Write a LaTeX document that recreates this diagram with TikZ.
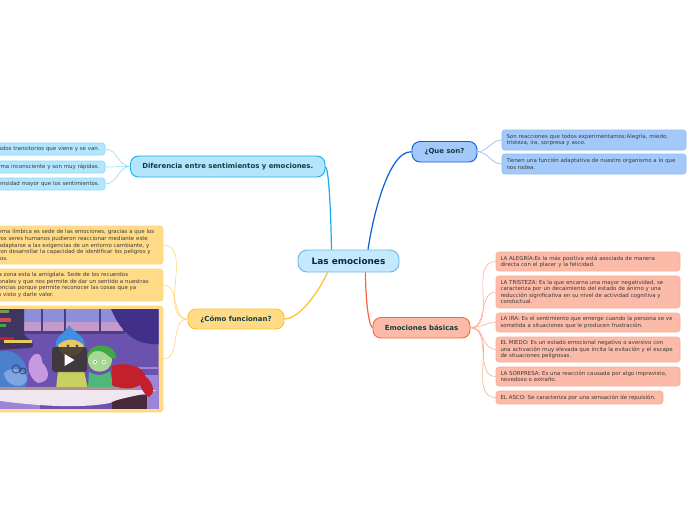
\documentclass[tikz,border=0pt]{standalone}
\usepackage{fontspec}
\setmainfont{DejaVu Sans}
\frenchspacing
\definecolor{txt}{HTML}{3A3A3A}
\definecolor{ttl}{HTML}{0F3D3E}
\definecolor{rootT}{HTML}{0C2340}
\definecolor{cenF}{HTML}{C4E9FD}\definecolor{cenB}{HTML}{6FB6E4}
\definecolor{cyF}{HTML}{B3E5FC}\definecolor{cyB}{HTML}{19ACEC}\definecolor{cyL}{HTML}{8FDCFA}
\definecolor{blF}{HTML}{A3C9FB}\definecolor{blB}{HTML}{0B5FD6}\definecolor{blL}{HTML}{8DBAF5}
\definecolor{yeF}{HTML}{FFDB88}\definecolor{yeB}{HTML}{FFBF26}\definecolor{yeL}{HTML}{FFD67A}
\definecolor{reF}{HTML}{FBBBA8}\definecolor{reB}{HTML}{F9653A}\definecolor{reL}{HTML}{FBAE96}
% scene colours
\definecolor{scMid}{HTML}{6A52AE}\definecolor{scLow}{HTML}{9C84D8}\definecolor{scTop}{HTML}{8E8FDA}
\definecolor{scPink}{HTML}{C49ACB}\definecolor{scCol}{HTML}{4A3F80}\definecolor{scBlob}{HTML}{40308A}
\definecolor{scCon}{HTML}{3E3560}\definecolor{scSad}{HTML}{4A80CC}\definecolor{scSadF}{HTML}{7FA6E0}
\definecolor{scBing}{HTML}{C79AE0}\definecolor{scJoy}{HTML}{3E90E4}\definecolor{scJoyB}{HTML}{C8D060}
\definecolor{scSkin}{HTML}{E8C860}\definecolor{scDis}{HTML}{3FA64A}\definecolor{scDisF}{HTML}{A6D890}
\definecolor{scDisB}{HTML}{4FB878}\definecolor{scAng}{HTML}{C4202C}\definecolor{scTab}{HTML}{EFE6F0}
\definecolor{scBand}{HTML}{B09090}\definecolor{scDark}{HTML}{4A2A3A}\definecolor{scPlay}{HTML}{3A3530}
\newcommand\mmbox[7]{%
  \pgfmathsetmacro\bw{#5-#3}\pgfmathsetmacro\bh{#6-#4}%
  \pgfmathsetmacro\bx{(#3+#5)/2}\pgfmathsetmacro\by{(#4+#6)/2}%
  \node[#1,minimum height=\bh pt,minimum width=\bw pt] (#2) at (\bx,\by) {#7};}
\newcommand\mmleaf[8]{%
  \pgfmathsetmacro\bh{#7-#5}\pgfmathsetmacro\tw{#6-#4-9}%
  \pgfmathsetmacro\bx{(#4+#6)/2}\pgfmathsetmacro\by{(#5+#7)/2}%
  \node[#1,fill=#3F,draw=#3L,minimum height=\bh pt,text width=\tw pt] (#2) at (\bx,\by) {#8};}
\tikzset{
  leafbox/.style={rounded corners=3pt,line width=.7pt,inner xsep=4.5pt,inner ysep=0pt,align=left,
    text=txt,font=\fontsize{5.45}{6.6}\selectfont},
  mainbox/.style={rounded corners=8pt,line width=.9pt,inner sep=0pt,align=center,text=ttl,
    font=\fontsize{6.95}{8}\selectfont\bfseries},
  rootbox/.style={rounded corners=9pt,line width=.9pt,inner sep=0pt,align=center,fill=cenF,draw=cenB,
    text=rootT,font=\fontsize{8.9}{10}\selectfont\bfseries},
  trunk/.style={line width=1.2pt},
  twig/.style={line width=.6pt}
}
\begin{document}
\begin{tikzpicture}[x=1pt,y=-1pt]
\useasboundingbox (0,0) rectangle (696,520);
\clip (0,0) rectangle (696,520);
\fill[white] (0,0) rectangle (696,520);

% nodes
\mmbox{rootbox}{root}{298}{250}{399}{272}{Las emociones}
\mmbox{mainbox,fill=cyF,draw=cyB}{dif}{130.5}{156}{325}{177}{Diferencia entre sentimientos y emociones.}
\mmbox{mainbox,fill=blF,draw=blB}{que}{412}{141.5}{477}{162}{¿Que son?}
\mmbox{mainbox,fill=yeF,draw=yeB}{como}{188}{309}{284}{329}{¿Cómo funcionan?}
\mmbox{mainbox,fill=reF,draw=reB}{bas}{373}{317.5}{470}{338}{Emociones básicas}

\mmleaf{leafbox}{d1}{cy}{-6}{143}{105}{155}{ados transitorios que viene y se van.}
\mmleaf{leafbox}{d2}{cy}{-6}{161}{105}{173}{rma inconsciente y son muy rápidas.}
\mmleaf{leafbox}{d3}{cy}{-6}{178}{105}{190}{ensidad mayor que los sentimientos.}

\mmleaf{leafbox}{c1}{ye}{-6}{226}{163}{264}{ema límbica es sede de las emociones, gracias a que los\\ros seres humanos pudieron reaccionar mediante este\\adaptarse a las exigencias de un entorno cambiante, y\\ron desarrollar la capacidad de identificar los peligros y\\ios.}
\mmleaf{leafbox}{c2}{ye}{-6}{269}{163}{301}{a zona esta la amígdala. Sede de los recuerdos\\onales y que nos permite de dar un sentido a nuestras\\encias porque permite reconocer las cosas que ya\\s visto y darle valor.}

\mmleaf{leafbox}{q1}{bl}{502}{130}{686}{150}{Son reacciones que todos experimentamos:Alegría, miedo,\\tristeza, ira, sorpresa y asco.}
\mmleaf{leafbox}{q2}{bl}{502}{154}{686}{174}{Tienen una función adaptativa de nuestro organismo a lo que\\nos rodea.}

\mmleaf{leafbox}{b1}{re}{496}{252}{680}{271}{LA ALEGRÍA:Es la más positiva está asociada de manera\\directa con el placer y la felicidad.}
\mmleaf{leafbox}{b2}{re}{496}{276}{680}{308}{LA TRISTEZA: Es la que encarna una mayor negatividad, se\\caracteriza por un decaimiento del estado de ánimo y una\\reducción significativa en su nivel de actividad cognitiva y\\conductual.}
\mmleaf{leafbox}{b3}{re}{496}{313}{680}{332}{LA IRA: Es el sentimiento que emerge cuando la persona se ve\\sometida a situaciones que le producen frustración.}
\mmleaf{leafbox}{b4}{re}{496}{337}{680}{362}{EL MIEDO: Es un estado emocional negativo o aversivo con\\una activación muy elevada que incita la evitación y el escape\\de situaciones peligrosas.}
\mmleaf{leafbox}{b5}{re}{496}{367}{680}{386}{LA SORPRESA: Es una reacción causada por algo imprevisto,\\novedoso o extraño.}
\mmleaf{leafbox}{b6}{re}{496}{391}{663}{404}{EL ASCO: Se caracteriza por una sensación de repulsión.}

% video card
\node[rounded corners=3.5pt,fill=yeF,draw=yeL,line width=.7pt,minimum width=169pt,minimum height=106pt,inner sep=0pt] (c3) at (78.5,359) {};
\begin{scope}
\clip (-6,309) rectangle (158.5,409);
\fill[scMid] (-6,309) rectangle (159,409);
\fill[scLow] (120,375) rectangle (159,409);
\fill[scLow] (-6,395) rectangle (40,409);
\fill[scTop] (20,309) rectangle (125,322);
\fill[scPink] (24,322) rectangle (125,331);
\foreach \wx in {42,65,100,124}{\fill[scCol] (\wx-1.3,309) rectangle (\wx+1.3,333);}
\fill[scCol] (20,331) rectangle (125,333.5);
\fill[scBlob] (111,309) .. controls (118,325) and (130,346) .. (159,344) -- (159,309) -- cycle;
\fill[scCon] (-6,309) -- (24,309) -- (24,334) .. controls (30,342) and (38,344) .. (30,348) -- (-6,350) -- cycle;
\fill[scDisF!70!black] (0,310) rectangle (9,313);
\fill[scAng!80!white] (0,318) rectangle (11,322);
\fill[scDis] (0,324) rectangle (6,327);
\fill[scSkin] (4,340) rectangle (32,343);
\fill[scAng] (0,337) rectangle (14,340);
\fill[scLow] (125,367) rectangle (159,369);
% Sadness
\fill[scSad] (-6,354) .. controls (8,345) and (26,355) .. (28,375) .. controls (29,388) and (20,394) .. (-6,396) -- cycle;
\fill[scSadF] (4,373) .. controls (5,388) and (27,390) .. (27,378) .. controls (24,368) and (10,366) .. (4,373) -- cycle;
\draw[scCon,line width=.7pt] (16,369) circle (4.2) (23,371) circle (3);
% Bing Bong
\fill[scBing] (29,362) .. controls (33,351) and (42,351) .. (42,362) .. controls (51,372) and (50,382) .. (38,383) .. controls (32,380) and (27,372) .. (29,362) -- cycle;
% Joy
\fill[scJoyB] (58,371) -- (84,371) -- (88,389) -- (56,389) -- cycle;
\fill[scSkin] (58,345) .. controls (60,360) and (82,360) .. (84,345) .. controls (85,335) and (58,335) .. (58,345) -- cycle;
\fill[scJoy] (56,347) .. controls (54,335) and (66,334) .. (69,325) .. controls (72,332) and (85,334) .. (85,347) .. controls (78,337) and (64,337) .. (56,347) -- cycle;
\fill[scCol] (68,346) circle (1.6) (77,346) circle (1.6);
% Disgust
\fill[scDisB] (89,372) .. controls (95,376) and (103,376) .. (110,371) -- (114,388) -- (88,388) -- cycle;
\fill[scDisF] (88,359) .. controls (87,376) and (112,376) .. (112,359) .. controls (112,346) and (88,346) .. (88,359) -- cycle;
\fill[scDis] (87,358) .. controls (87,341) and (116,341) .. (116,358) .. controls (110,362) and (108,350) .. (96,351) .. controls (92,351) and (90,355) .. (87,358) -- cycle;
\fill[white] (95,362) circle (2) (104,362) circle (2);
\fill[scCol] (95,362) circle (.9) (104,362) circle (.9);
% Table
\fill[scDark] (112,395) rectangle (147,409);
\fill[scTab] (-6,390) -- (157,390) .. controls (135,397) and (118,398) .. (110,403) .. controls (85,408) and (40,407) .. (-6,400) -- cycle;
\fill[scBand] (-6,386.5) rectangle (135,390);
% Anger
\fill[scAng] (112,366) .. controls (125,361) and (145,367) .. (145,376) .. controls (155,384) and (155,394) .. (149,397) .. controls (143,393) and (142,389) .. (140,385) .. controls (130,391) and (118,388) .. (112,385) -- cycle;
% Play button
\fill[scPlay,opacity=.88,rounded corners=3pt] (52,347) rectangle (87,372);
\fill[white] (64.5,354) -- (64.5,366) -- (74.5,360) -- cycle;
\end{scope}

% trunk connectors
\draw[trunk,blB] ([xshift=19.5pt]root.north) .. controls +(4,-28) and +(-24,-1) .. (que.west);
\draw[trunk,cyB] ([xshift=-17pt]root.north) .. controls +(-1,-50) and +(3,3) .. (dif.east);
\draw[trunk,yeB] ([xshift=-21pt]root.south) .. controls +(-10,22) and +(14,0) .. (como.east);
\draw[trunk,reB] ([xshift=17pt]root.south) .. controls +(0,26) and +(-4,-2) .. (bas.west);

% leaf connectors
\foreach \a in {d1,d2,d3}{\draw[twig,cyL] (dif.west) to[out=180,in=0] (\a.east);}
\foreach \a in {q1,q2}{\draw[twig,blL] (que.east) to[out=0,in=180] (\a.west);}
\foreach \a in {c1,c2,c3}{\draw[twig,yeL] (como.west) to[out=180,in=0] (\a.east);}
\foreach \a in {b1,b2,b3,b4,b5,b6}{\draw[twig,reL] (bas.east) to[out=0,in=180] (\a.west);}
\end{tikzpicture}
\end{document}
